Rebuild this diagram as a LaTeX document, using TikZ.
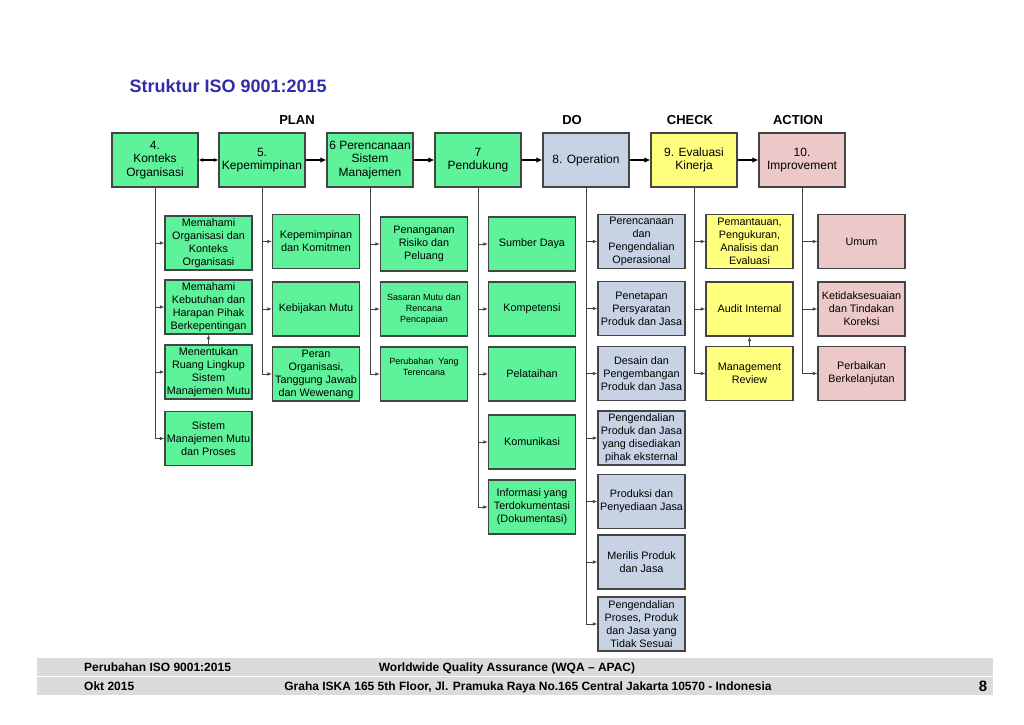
\documentclass[tikz,border=0pt]{standalone}
\usepackage{fontspec}
\setmainfont{Liberation Sans}
\usetikzlibrary{arrows.meta}
\definecolor{boxgreen}{RGB}{94,242,154}
\definecolor{boxblue}{RGB}{199,211,228}
\definecolor{boxyellow}{RGB}{255,255,125}
\definecolor{boxpink}{RGB}{236,200,200}
\definecolor{titleblue}{RGB}{46,46,170}
\definecolor{footgray}{RGB}{221,219,217}
\definecolor{edge}{RGB}{68,68,68}

\begin{document}
\begin{tikzpicture}[x=1pt, y=-1pt, >={Latex[length=4.5pt,width=3.5pt]},
    box/.style={draw=edge, line width=1.1pt, rectangle, align=center, minimum width=87pt, minimum height=54pt, inner sep=1pt, font=\fontsize{10.8}{13}\selectfont},
    head/.style={box, minimum width=86pt, font=\fontsize{12}{13.5}\selectfont},
    small/.style={font=\fontsize{9}{11}\selectfont},
    planbox/.style={fill=boxgreen},
    dobox/.style={fill=boxblue},
    checkbox/.style={fill=boxyellow},
    actbox/.style={fill=boxpink},
    link/.style={draw=edge, line width=0.8pt, ->},
    flow/.style={line width=1.6pt, -{Latex[length=6pt,width=5.5pt]}},
    phase/.style={font=\fontsize{13}{13}\selectfont\bfseries},
    foot/.style={font=\fontsize{12}{12}\selectfont\bfseries, inner sep=0pt}]
    \useasboundingbox (0,0) rectangle (1024,724);

    % title and phases
    \node[anchor=west, text=titleblue, font=\fontsize{18}{18}\selectfont\bfseries] (judul) at (126,86) {Struktur ISO 9001:2015};
    \node[phase] (plan) at (297,120) {PLAN};
    \node[phase] (do) at (572,120) {DO};
    \node[phase] (check) at (690,120) {CHECK};
    \node[phase] (action) at (798,120) {ACTION};

    % clauses
    \node[head, planbox] (konteks) at (155,160) {4.\\Konteks\\Organisasi};
    \node[head, planbox] (pimpin) at (262,160) {5.\\Kepemimpinan};
    \node[head, planbox] (rencana) at (370,160) {6 Perencanaan\\Sistem\\Manajemen};
    \node[head, planbox] (dukung) at (478,160) {7\\Pendukung};
    \node[head, dobox] (operasi) at (586,160) {8. Operation};
    \node[head, checkbox] (evaluasi) at (694,160) {9. Evaluasi\\Kinerja};
    \node[head, actbox] (improve) at (802,160) {10.\\Improvement};

    \draw[line width=1.1pt, {Latex[length=4.5pt,width=4pt]}-{Latex[length=4.5pt,width=4pt]}] (konteks) -- (pimpin);
    \draw[flow] (pimpin) -- (rencana);
    \draw[flow] (rencana) -- (dukung);
    \draw[flow] (dukung) -- (operasi);
    \draw[flow] (operasi) -- (evaluasi);
    \draw[flow] (evaluasi) -- (improve);

    % 4 konteks
    \node[box, planbox] (memahami) at (208.5,243) {Memahami\\Organisasi dan\\Konteks\\Organisasi};
    \node[box, planbox] (kebutuhan) at (208.5,307) {Memahami\\Kebutuhan dan\\Harapan Pihak\\Berkepentingan};
    \node[box, planbox] (ruang) at (208.5,372) {Menentukan\\Ruang Lingkup\\Sistem\\Manajemen Mutu};
    \node[box, planbox] (sistem) at (208.5,438.5) {Sistem\\Manajemen Mutu\\dan Proses};
    \draw[link] (konteks.south) |- (sistem.west);
    \draw[link] (konteks.south |- memahami.west) -- (memahami.west);
    \draw[link] (konteks.south |- kebutuhan.west) -- (kebutuhan.west);
    \draw[link] (konteks.south |- ruang.west) -- (ruang.west);
    \draw[link] (ruang.north) -- (kebutuhan.south);

    % 5 kepemimpinan
    \node[box, planbox] (komitmen) at (316,241.5) {Kepemimpinan\\dan Komitmen};
    \node[box, planbox] (kebijakan) at (316,309) {Kebijakan Mutu};
    \node[box, planbox] (peran) at (316,374) {Peran\\Organisasi,\\Tanggung Jawab\\dan Wewenang};
    \draw[link] (pimpin.south) |- (peran.west);
    \draw[link] (pimpin.south |- komitmen.west) -- (komitmen.west);
    \draw[link] (pimpin.south |- kebijakan.west) -- (kebijakan.west);

    % 6 perencanaan
    \node[box, planbox] (risiko) at (424,244) {Penanganan\\Risiko dan\\Peluang};
    \node[box, planbox, small] (sasaran) at (424,309) {Sasaran Mutu dan\\Rencana\\Pencapaian};
    \node[box, planbox, small] (perubahan) at (424,374) {Perubahan~ Yang\\Terencana\\[4pt]};
    \draw[link] (rencana.south) |- (perubahan.west);
    \draw[link] (rencana.south |- risiko.west) -- (risiko.west);
    \draw[link] (rencana.south |- sasaran.west) -- (sasaran.west);

    % 7 pendukung
    \node[box, planbox] (sumber) at (532,244) {Sumber Daya};
    \node[box, planbox] (kompetensi) at (532,309) {Kompetensi};
    \node[box, planbox] (pelatihan) at (532,374) {Pelataihan};
    \node[box, planbox] (komunikasi) at (532,442) {Komunikasi};
    \node[box, planbox] (informasi) at (532,507) {Informasi yang\\Terdokumentasi\\(Dokumentasi)};
    \draw[link] (dukung.south) |- (informasi.west);
    \draw[link] (dukung.south |- sumber.west) -- (sumber.west);
    \draw[link] (dukung.south |- kompetensi.west) -- (kompetensi.west);
    \draw[link] (dukung.south |- pelatihan.west) -- (pelatihan.west);
    \draw[link] (dukung.south |- komunikasi.west) -- (komunikasi.west);

    % 8 operation
    \node[box, dobox] (perencanaan) at (641.5,241.5) {Perencanaan\\dan\\Pengendalian\\Operasional};
    \node[box, dobox] (penetapan) at (641.5,308.5) {Penetapan\\Persyaratan\\Produk dan Jasa};
    \node[box, dobox] (desain) at (641.5,373.5) {Desain dan\\Pengembangan\\Produk dan Jasa};
    \node[box, dobox] (eksternal) at (641.5,438) {Pengendalian\\Produk dan Jasa\\yang disediakan\\pihak eksternal};
    \node[box, dobox] (produksi) at (641.5,501.5) {Produksi dan\\Penyediaan Jasa};
    \node[box, dobox] (merilis) at (641.5,562) {Merilis Produk\\dan Jasa};
    \node[box, dobox] (tidaksesuai) at (641.5,624) {Pengendalian\\Proses, Produk\\dan Jasa yang\\Tidak Sesuai};
    \draw[link] (operasi.south) |- (tidaksesuai.west);
    \draw[link] (operasi.south |- perencanaan.west) -- (perencanaan.west);
    \draw[link] (operasi.south |- penetapan.west) -- (penetapan.west);
    \draw[link] (operasi.south |- desain.west) -- (desain.west);
    \draw[link] (operasi.south |- eksternal.west) -- (eksternal.west);
    \draw[link] (operasi.south |- produksi.west) -- (produksi.west);
    \draw[link] (operasi.south |- merilis.west) -- (merilis.west);

    % 9 evaluasi
    \node[box, checkbox] (pemantauan) at (749.5,241.5) {Pemantauan,\\Pengukuran,\\Analisis dan\\Evaluasi};
    \node[box, checkbox] (audit) at (749.5,309) {Audit Internal};
    \node[box, checkbox] (review) at (749.5,373.5) {Management\\Review};
    \draw[link] (evaluasi.south) |- (review.west);
    \draw[link] (evaluasi.south |- pemantauan.west) -- (pemantauan.west);
    \draw[link] (evaluasi.south |- audit.west) -- (audit.west);
    \draw[link] (review.north) -- (audit.south);

    % 10 improvement
    \node[box, actbox] (umum) at (861.5,241.5) {Umum};
    \node[box, actbox] (koreksi) at (861.5,309) {Ketidaksesuaian\\dan Tindakan\\Koreksi};
    \node[box, actbox] (perbaikan) at (861.5,373.5) {Perbaikan\\Berkelanjutan};
    \draw[link] (improve.south) |- (perbaikan.west);
    \draw[link] (improve.south |- umum.west) -- (umum.west);
    \draw[link] (improve.south |- koreksi.west) -- (koreksi.west);

    % footer
    \fill[footgray] (37,658) rectangle (993,675.5);
    \fill[footgray] (37,676.5) rectangle (993,695);
    \node[foot, anchor=base west] (fjudul) at (84,671) {Perubahan ISO 9001:2015};
    \node[foot, anchor=base] (fwqa) at (507,671) {Worldwide Quality Assurance (WQA – APAC)};
    \node[foot, anchor=base west] (ftanggal) at (84,690.5) {Okt 2015};
    \node[foot, anchor=base] (falamat) at (528,690.5) {Graha ISKA 165 5th Floor, Jl. Pramuka Raya No.165 Central Jakarta 10570 - Indonesia};
    \node[foot, anchor=base, font=\fontsize{15}{15}\selectfont\bfseries] (fhal) at (983,691) {8};
\end{tikzpicture}
\end{document}
